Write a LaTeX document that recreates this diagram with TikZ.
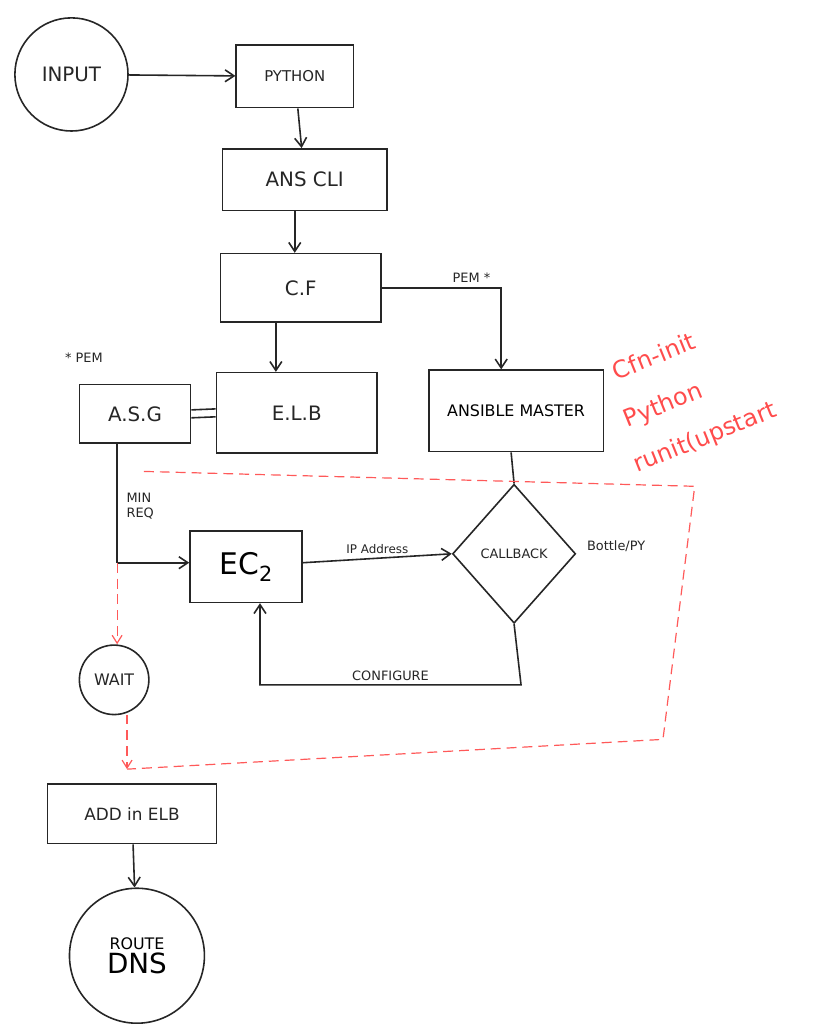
\documentclass[tikz,border=0pt]{standalone}
\usepackage{fontspec}
\setmainfont{DejaVu Sans}
\usetikzlibrary{shapes.geometric,arrows.meta}
\begin{document}
\begin{tikzpicture}[x=1pt,y=-1pt,
  pen/.style={line width=1.6pt,draw=black!85},
  box/.style={pen,rectangle,inner sep=0pt},
  arr/.style={pen,-{Straight Barb[length=9pt,width=12pt]}},
  rarr/.style={line width=1.2pt,draw=red!65,dash pattern=on 10pt off 6pt,-{Straight Barb[length=8pt,width=10pt]}},
  rdash/.style={line width=1.2pt,draw=red!65,dash pattern=on 10pt off 6pt},
  lbl/.style={font=\fontsize{13}{15}\selectfont,text=black!85},
  big/.style={font=\fontsize{20}{22}\selectfont,text=black!85},
  redt/.style={text=red!70,font=\fontsize{24}{26}\selectfont,rotate=22,anchor=west,inner sep=0pt}]
\fill[white] (0,0) rectangle (842,1024);
\node[pen,circle,minimum size=114pt,big] (in) at (72,75) {INPUT};
\node[box,minimum width=118pt,minimum height=63pt,lbl,font=\fontsize{15}{17}\selectfont] (py) at (297,77) {PYTHON};
\node[box,minimum width=166pt,minimum height=62pt,big] (cli) at (307,181) {ANS CLI};
\node[box,minimum width=162pt,minimum height=69pt,big] (cf) at (303,290) {C.F};
\node[box,minimum width=162pt,minimum height=81pt,big] (elb) at (299,416) {E.L.B};
\node[box,minimum width=112pt,minimum height=59pt,big] (asg) at (136,417) {A.S.G};
\node[lbl,anchor=west] (pem1) at (62,360) {* PEM};
\node[box,minimum width=176pt,minimum height=82pt,font=\fontsize{16}{18}\selectfont] (am) at (520,414) {ANSIBLE MASTER};
\node[lbl] (pem2) at (475,280) {PEM *};
\node[redt] (r1) at (618,375) {Cfn-init};
\node[redt] (r2) at (630,425) {Python};
\node[redt] (r3) at (640,470) {runit(upstart};
\node[box,minimum width=113pt,minimum height=72pt,font=\fontsize{30}{32}\selectfont] (ec2) at (248,571) {EC\textsubscript{2}};
\node[pen,diamond,minimum width=124pt,minimum height=140pt,inner sep=0pt,lbl] (cb) at (518,558) {CALLBACK};
\node[lbl,anchor=west] (bot) at (588,550) {Bottle/PY};
\node[lbl,align=left,anchor=west] (mr) at (124,510) {MIN\\REQ};
\node[pen,circle,minimum size=70pt,lbl,font=\fontsize{16}{18}\selectfont] (wait) at (115,685) {WAIT};
\node[box,minimum width=170pt,minimum height=60pt,lbl,font=\fontsize{17}{19}\selectfont] (add) at (133,820) {ADD in ELB};
\node[pen,circle,minimum size=136pt,align=center,inner sep=0pt] (dns) at (138,963) {\fontsize{16}{18}\selectfont ROUTE\\[2pt]\fontsize{28}{30}\selectfont DNS};
\coordinate (asgb) at (118,447);
\coordinate (j1) at (118,567);
\coordinate (c1) at (505,290);
\coordinate (cbb) at (525,690);
\coordinate (c2) at (262,690);
\coordinate (wd) at (128,720);
\draw[arr] (in) -- (py);
\draw[arr] (py) -- (cli);
\draw[arr] (cli.south -| 297,0) -- (cf.north -| 297,0);
\draw[arr] (cf.south -| 278,0) -- (elb.north -| 278,0);
\draw[arr] (cf.east |- c1) -- (c1) -- (am.north -| c1);
\draw[pen] ([yshift=-4pt]asg.east) -- ([yshift=-4pt]elb.west);
\draw[pen] ([yshift=4pt]asg.east) -- ([yshift=4pt]elb.west);
\draw[pen] (asgb) -- (j1);
\draw[arr] (j1) -- (ec2.west |- j1);
\draw[arr] (ec2.east |- 0,567) -- node[above,lbl,font=\fontsize{12}{14}\selectfont]{IP Address} (cb.west);
\draw[pen] (am.south -| 515,0) -- (cb.north);
\draw[arr] (cb.south) -- (cbb) -- node[above,lbl]{CONFIGURE} (c2) -- (ec2.south -| c2);
\draw[rarr] (j1) -- (wait.north -| j1);
\draw[rarr] (wd) -- (128,775);
\draw[rdash] (145,475) -- (700,490) -- (668,745) -- (128,775);
\draw[arr] (add) -- (dns);
\end{tikzpicture}
\end{document}
